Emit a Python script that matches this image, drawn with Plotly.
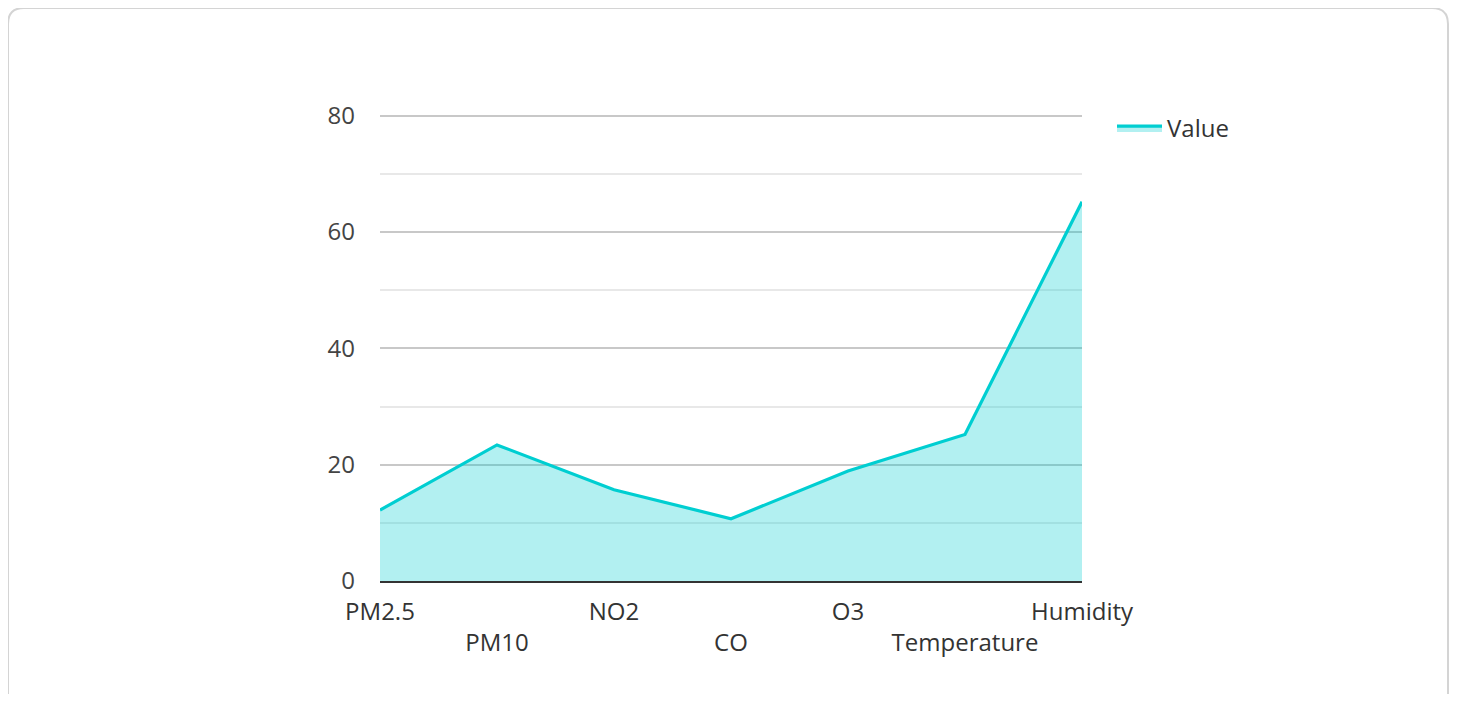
import plotly.graph_objects as go

categories = ["PM2.5", "PM10", "NO2", "CO", "O3", "Temperature", "Humidity"]
values = [12.2, 23.4, 15.7, 10.7, 18.9, 25.2, 65.2]
series_name = "Value"
y_ticks = [0, 20, 40, 60, 80]

OFF = 8  # browser body margin
W, H = 1458 - 2 * OFF, 702 - 2 * OFF
Y_TOP = 80.3
PX_PER_UNIT = (581 - 116) / 80.0
# plot area in screen pixels of the reference
L, R, B = 380 - OFF, 1082 - OFF, 581 - OFF
T = round(B - Y_TOP * PX_PER_UNIT)

idx = list(range(len(categories)))
ticktext = [c if i % 2 == 0 else "<br>" + c for i, c in enumerate(categories)]

fig = go.Figure()
fig.add_trace(go.Scatter(
    x=idx, y=values, name=series_name, mode="lines",
    line=dict(color="rgb(0,206,209)", width=3.2),
    fill="tozeroy", fillcolor="rgba(0,206,209,0.3)",
    showlegend=True,
))

font_family = "Open Sans, Noto Sans, sans-serif"


def px_x(p):
    return (p - L) / (R - L)


def px_y(p):
    return (B - p) / (B - T)


# rounded border around the card (page pixels)
x0, x1, y0, y1, r = 0, W - 2, 0, H + 40, 16
path = (
    f"M {px_x(x0)},{px_y(y1)} L {px_x(x0)},{px_y(y0 + r)} "
    f"Q {px_x(x0)},{px_y(y0)} {px_x(x0 + r)},{px_y(y0)} "
    f"L {px_x(x1 - r)},{px_y(y0)} "
    f"Q {px_x(x1)},{px_y(y0)} {px_x(x1)},{px_y(y0 + r)} "
    f"L {px_x(x1)},{px_y(y1)}"
)

fig.update_layout(
    width=W, height=H,
    margin=dict(l=L, r=W - R, t=T, b=H - B, pad=0, autoexpand=False),
    paper_bgcolor="white", plot_bgcolor="white",
    font=dict(family=font_family, size=24, color="#444"),
    showlegend=True,
    legend=dict(x=px_x(1112 - OFF), y=px_y(106 - OFF), xanchor="left", yanchor="top",
                itemwidth=45,
                font=dict(size=24, color="#333"), bgcolor="rgba(0,0,0,0)"),
    shapes=[dict(type="path", path=path, xref="paper", yref="paper",
                 line=dict(color="#d4d4d4", width=2), layer="below")],
    xaxis=dict(
        range=[0, 6], tickmode="array", tickvals=idx, ticktext=ticktext,
        showgrid=False, zeroline=False, showline=True,
        linecolor="#333", linewidth=2, ticks="", tickangle=0, automargin=False,
        tickfont=dict(size=24, color="#333"), ticklabelstandoff=8,
    ),
    yaxis=dict(
        range=[0, Y_TOP], tickmode="array", tickvals=y_ticks,
        showgrid=True, gridcolor="#c8c8c8", gridwidth=1.5, automargin=False,
        zeroline=False, showline=False, ticks="",
        tickfont=dict(size=24, color="#444"), ticklabelstandoff=24,
        minor=dict(dtick=10, showgrid=True, gridcolor="#e8e8e8", gridwidth=1.5),
    ),
)

fig.write_html("out.html")
